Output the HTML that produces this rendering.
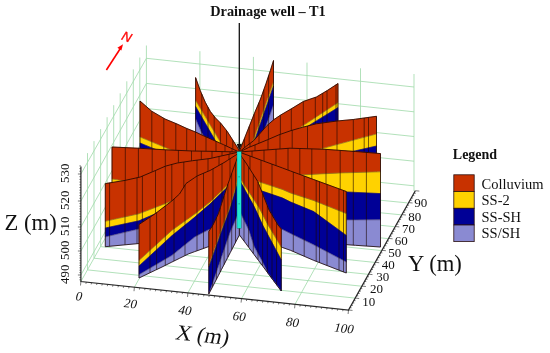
<!DOCTYPE html>
<html><head><meta charset="utf-8"><title>Drainage well T1</title>
<style>html,body{margin:0;padding:0;background:#fff}svg{display:block}</style></head>
<body>
<svg width="550" height="353" viewBox="0 0 550 353">
<rect width="550" height="353" fill="#fff"/>
<path d="M146.4 58.3L414 87M146.4 58.3L80.9 174M146.4 83.4L414 111.8M146.4 83.4L80.9 201M146.4 108.5L414 136.5M146.4 108.5L80.9 227M146.4 133.6L414 161.2M146.4 133.6L80.9 251M146.4 158.7L414 185.8M146.4 158.7L80.9 275M146.4 165L80.9 281.5M146.4 45.5L146.4 165M199.9 51.2L199.9 170.2M253.4 56.9L253.4 175.4M307 62.6L307 180.6M360.5 68.3L360.5 185.8M414 74L414 191M139.8 57.5L139.8 176.7M133.3 69.4L133.3 188.3M126.8 81.3L126.8 199.9M120.2 93.3L120.2 211.6M113.7 105.2L113.7 223.2M107.1 117.2L107.1 234.9M100.6 129.1L100.6 246.6M94 141.1L94 258.2M87.5 153.1L87.5 269.9M87.5 269.9L355.1 298.1M94 258.2L361.6 286.2M100.6 246.6L368.1 274.3M107.1 234.9L374.7 262.4M113.7 223.2L381.2 250.5M120.2 211.6L387.8 238.6M126.8 199.9L394.4 226.7M133.3 188.3L400.9 214.8M139.9 176.6L407.4 202.9M134.4 287.2L199.9 170.2M187.9 292.9L253.4 175.4M241.5 298.6L307 180.6M295 304.3L360.5 185.8" stroke="#a4dcae" stroke-width="0.85" fill="none"/>
<g><polygon points="239.5,151 247,132 253.4,116 255,112 260.5,99 266,83.6 267.5,79.1 270.4,70.5 273.5,60.5 273.5,82 270.4,90.9 267.5,99.3 266,103.6 260.5,119.5 255,135.4 253.4,140 247,158.4 239.5,180" fill="#c83200" stroke="#c83200" stroke-width="0.5"/>
<polygon points="239.5,180 247,158.4 253.4,140 255,135.4 260.5,119.5 266,103.6 267.5,99.3 270.4,90.9 273.5,82 273.5,86 270.4,94.9 267.5,103.3 266,107.6 260.5,123.5 255,139.3 253.4,143.9 247,162.4 239.5,184" fill="#ffd200" stroke="#ffd200" stroke-width="0.5"/>
<polygon points="239.5,184 247,162.4 253.4,143.9 255,139.3 260.5,123.5 266,107.6 267.5,103.3 270.4,94.9 273.5,86 273.5,105 270.4,113.8 267.5,122 266,125.8 260.5,139.8 255,153.7 253.4,157.8 247,174 239.5,193" fill="#000096" stroke="#000096" stroke-width="0.5"/>
<polygon points="239.5,193 247,174 253.4,157.8 255,153.7 260.5,139.8 266,125.8 267.5,122 270.4,113.8 273.5,105 273.5,135 270.4,144 267.5,152.5 266,156.8 260.5,172.9 255,188.9 253.4,193.5 247,212.2 239.5,234" fill="#8a8ad2" stroke="#8a8ad2" stroke-width="0.5"/>
<polyline points="239.5,180 247,158.4 253.4,140 255,135.4 260.5,119.5 266,103.6 267.5,99.3 270.4,90.9 273.5,82" fill="none" stroke="#201030" stroke-width="0.5" stroke-opacity="0.7"/>
<polyline points="239.5,184 247,162.4 253.4,143.9 255,139.3 260.5,123.5 266,107.6 267.5,103.3 270.4,94.9 273.5,86" fill="none" stroke="#201030" stroke-width="0.5" stroke-opacity="0.7"/>
<polyline points="239.5,193 247,174 253.4,157.8 255,153.7 260.5,139.8 266,125.8 267.5,122 270.4,113.8 273.5,105" fill="none" stroke="#201030" stroke-width="0.5" stroke-opacity="0.7"/>
<path d="M244.4 138.7V219.9M249.2 126.5V205.7M254.1 114.3V191.6M258.9 102.7V177.4M263.8 89.8V163.3M268.6 75.7V149.1" stroke="#1a0500" stroke-width="0.7" fill="none" stroke-opacity="0.85"/>
<polygon points="239.5,151 247,132 253.4,116 255,112 260.5,99 266,83.6 267.5,79.1 270.4,70.5 273.5,60.5 273.5,135 270.4,144 267.5,152.5 266,156.8 260.5,172.9 255,188.9 253.4,193.5 247,212.2 239.5,234" fill="none" stroke="#1a0500" stroke-width="0.8"/></g>
<g><polygon points="195.6,77.6 200.2,90.4 201,92.3 205.3,102.3 210.4,111.6 215.5,118 219.3,121.8 221,123.5 227.3,131.5 233,140.5 239,150 239,174 233,163.8 227.3,154 221,143.3 219.3,140.4 215.5,134 210.4,125.4 205.3,116.8 201,109.5 200.2,108.2 195.6,100.4" fill="#c83200" stroke="#c83200" stroke-width="0.5"/>
<polygon points="195.6,100.4 200.2,108.2 201,109.5 205.3,116.8 210.4,125.4 215.5,134 219.3,140.4 221,143.3 227.3,154 233,163.8 239,174 239,181 233,170.8 227.3,161.1 221,150.4 219.3,147.5 215.5,140.9 210.4,132.1 205.3,123.3 201,115.8 200.2,114.5 195.6,106.5" fill="#ffd200" stroke="#ffd200" stroke-width="0.5"/>
<polygon points="195.6,106.5 200.2,114.5 201,115.8 205.3,123.3 210.4,132.1 215.5,140.9 219.3,147.5 221,150.4 227.3,161.1 233,170.8 239,181 239,200 233,189.2 227.3,178.9 221,167.6 219.3,164.5 215.5,157.6 210.4,148.4 205.3,139.3 201,131.5 200.2,129.6 195.6,119" fill="#000096" stroke="#000096" stroke-width="0.5"/>
<polygon points="195.6,119 200.2,129.6 201,131.5 205.3,139.3 210.4,148.4 215.5,157.6 219.3,164.5 221,167.6 227.3,178.9 233,189.2 239,200 239,234 233,221 227.3,208.7 221,195 219.3,191.3 215.5,183.1 210.4,172.1 205.3,161 201,151.7 200.2,150 195.6,140" fill="#8a8ad2" stroke="#8a8ad2" stroke-width="0.5"/>
<polyline points="195.6,100.4 200.2,108.2 201,109.5 205.3,116.8 210.4,125.4 215.5,134 219.3,140.4 221,143.3 227.3,154 233,163.8 239,174" fill="none" stroke="#201030" stroke-width="0.5" stroke-opacity="0.7"/>
<polyline points="195.6,106.5 200.2,114.5 201,115.8 205.3,123.3 210.4,132.1 215.5,140.9 219.3,147.5 221,150.4 227.3,161.1 233,170.8 239,181" fill="none" stroke="#201030" stroke-width="0.5" stroke-opacity="0.7"/>
<polyline points="195.6,119 200.2,129.6 201,131.5 205.3,139.3 210.4,148.4 215.5,157.6 219.3,164.5 221,167.6 227.3,178.9 233,189.2 239,200" fill="none" stroke="#201030" stroke-width="0.5" stroke-opacity="0.7"/>
<path d="M232.8 140.2V220.6M226.6 130.6V207.1M220.4 122.9V193.7M214.2 116.4V180.3M208 107.2V166.9M201.8 94.1V153.4" stroke="#1a0500" stroke-width="0.7" fill="none" stroke-opacity="0.85"/>
<polygon points="195.6,77.6 200.2,90.4 201,92.3 205.3,102.3 210.4,111.6 215.5,118 219.3,121.8 221,123.5 227.3,131.5 233,140.5 239,150 239,234 233,221 227.3,208.7 221,195 219.3,191.3 215.5,183.1 210.4,172.1 205.3,161 201,151.7 200.2,150 195.6,140" fill="none" stroke="#1a0500" stroke-width="0.8"/></g>
<g><polygon points="239,152 241.7,150 246.8,145.8 253.6,140.7 260.4,133 267,125.5 274,119.5 280.7,115 291,109 303.3,101.5 309,99.5 316.4,97 327.3,90.5 338,83.5 338,102.7 327.3,109.7 316.4,116.9 309,121.8 303.3,125.5 291,133.6 280.7,140.4 274,144.9 267,149.5 260.4,153.9 253.6,158.3 246.8,162.8 241.7,166.2 239,168" fill="#c83200" stroke="#c83200" stroke-width="0.5"/>
<polygon points="239,168 241.7,166.2 246.8,162.8 253.6,158.3 260.4,153.9 267,149.5 274,144.9 280.7,140.4 291,133.6 303.3,125.5 309,121.8 316.4,116.9 327.3,109.7 338,102.7 338,107.6 327.3,114.2 316.4,120.9 309,125.5 303.3,129.3 291,137.5 280.7,144.3 274,148.8 267,153.4 260.4,157.8 253.6,162.3 246.8,166.8 241.7,170.2 239,172" fill="#ffd200" stroke="#ffd200" stroke-width="0.5"/>
<polygon points="239,172 241.7,170.2 246.8,166.8 253.6,162.3 260.4,157.8 267,153.4 274,148.8 280.7,144.3 291,137.5 303.3,129.3 309,125.5 316.4,120.9 327.3,114.2 338,107.6 338,128 327.3,135.8 316.4,143.7 309,149.1 303.3,153.2 291,162.2 280.7,169.7 274,174.5 267,179.6 260.4,184.4 253.6,189.4 246.8,194.3 241.7,198 239,200" fill="#000096" stroke="#000096" stroke-width="0.5"/>
<polygon points="239,200 241.7,198 246.8,194.3 253.6,189.4 260.4,184.4 267,179.6 274,174.5 280.7,169.7 291,162.2 303.3,153.2 309,149.1 316.4,143.7 327.3,135.8 338,128 338,140 327.3,150.2 316.4,160.5 309,167.5 303.3,172.9 291,184.6 280.7,194.4 274,200.8 267,207.4 260.4,213.7 253.6,220.1 246.8,226.6 241.7,231.4 239,234" fill="#8a8ad2" stroke="#8a8ad2" stroke-width="0.5"/>
<polyline points="239,168 241.7,166.2 246.8,162.8 253.6,158.3 260.4,153.9 267,149.5 274,144.9 280.7,140.4 291,133.6 303.3,125.5 309,121.8 316.4,116.9 327.3,109.7 338,102.7" fill="none" stroke="#201030" stroke-width="0.5" stroke-opacity="0.7"/>
<polyline points="239,172 241.7,170.2 246.8,166.8 253.6,162.3 260.4,157.8 267,153.4 274,148.8 280.7,144.3 291,137.5 303.3,129.3 309,125.5 316.4,120.9 327.3,114.2 338,107.6" fill="none" stroke="#201030" stroke-width="0.5" stroke-opacity="0.7"/>
<polyline points="239,200 241.7,198 246.8,194.3 253.6,189.4 260.4,184.4 267,179.6 274,174.5 280.7,169.7 291,162.2 303.3,153.2 309,149.1 316.4,143.7 327.3,135.8 338,128" fill="none" stroke="#201030" stroke-width="0.5" stroke-opacity="0.7"/>
<path d="M250 143.4V223.6M259 134.6V215M268.4 124.3V206.1M280.4 115.2V194.7M291.3 108.8V184.3M303.3 101.5V172.9M315.3 97.4V161.6M322.7 93.2V154.5M327 90.7V150.4M336 84.8V141.9" stroke="#1a0500" stroke-width="0.7" fill="none" stroke-opacity="0.85"/>
<polygon points="239,152 241.7,150 246.8,145.8 253.6,140.7 260.4,133 267,125.5 274,119.5 280.7,115 291,109 303.3,101.5 309,99.5 316.4,97 327.3,90.5 338,83.5 338,140 327.3,150.2 316.4,160.5 309,167.5 303.3,172.9 291,184.6 280.7,194.4 274,200.8 267,207.4 260.4,213.7 253.6,220.1 246.8,226.6 241.7,231.4 239,234" fill="none" stroke="#1a0500" stroke-width="0.8"/></g>
<g><polygon points="140,101 151.8,111.3 152,111.4 164,118.4 165,119 177,124 186.8,128.5 195.5,132 201.8,135 223.6,144.7 239,152 239,178 223.6,171.6 201.8,162.6 195.5,160 186.8,156.4 177,152.4 165,147.4 164,147 152,142 151.8,141.9 140,137" fill="#c83200" stroke="#c83200" stroke-width="0.5"/>
<polygon points="140,137 151.8,141.9 152,142 164,147 165,147.4 177,152.4 186.8,156.4 195.5,160 201.8,162.6 223.6,171.6 239,178 239,182 223.6,176 201.8,167.5 195.5,165 186.8,161.6 177,157.8 165,153.1 164,152.7 152,148 151.8,147.9 140,143" fill="#ffd200" stroke="#ffd200" stroke-width="0.5"/>
<polygon points="140,143 151.8,147.9 152,148 164,152.7 165,153.1 177,157.8 186.8,161.6 195.5,165 201.8,167.5 223.6,176 239,182 239,200 223.6,193 201.8,183.1 195.5,180.2 186.8,176.3 177,171.8 165,166.4 164,165.9 152,160.5 151.8,160.4 140,155" fill="#000096" stroke="#000096" stroke-width="0.5"/>
<polygon points="140,155 151.8,160.4 152,160.5 164,165.9 165,166.4 177,171.8 186.8,176.3 195.5,180.2 201.8,183.1 223.6,193 239,200 239,234 223.6,223.3 201.8,208.1 195.5,203.7 186.8,197.6 177,190.8 165,182.4 164,181.7 152,173.4 151.8,173.2 140,165" fill="#8a8ad2" stroke="#8a8ad2" stroke-width="0.5"/>
<polyline points="140,137 151.8,141.9 152,142 164,147 165,147.4 177,152.4 186.8,156.4 195.5,160 201.8,162.6 223.6,171.6 239,178" fill="none" stroke="#201030" stroke-width="0.5" stroke-opacity="0.7"/>
<polyline points="140,143 151.8,147.9 152,148 164,152.7 165,153.1 177,157.8 186.8,161.6 195.5,165 201.8,167.5 223.6,176 239,182" fill="none" stroke="#201030" stroke-width="0.5" stroke-opacity="0.7"/>
<polyline points="140,155 151.8,160.4 152,160.5 164,165.9 165,166.4 177,171.8 186.8,176.3 195.5,180.2 201.8,183.1 223.6,193 239,200" fill="none" stroke="#201030" stroke-width="0.5" stroke-opacity="0.7"/>
<path d="M151.8 111.3V173.2M163.8 118.3V181.6M175.8 123.5V190M186.7 128.5V197.5M195.5 132V203.7M206 136.9V211M216 141.3V218M225 145.4V224.2M232 148.7V229.1" stroke="#1a0500" stroke-width="0.7" fill="none" stroke-opacity="0.85"/>
<polygon points="140,101 151.8,111.3 152,111.4 164,118.4 165,119 177,124 186.8,128.5 195.5,132 201.8,135 223.6,144.7 239,152 239,234 223.6,223.3 201.8,208.1 195.5,203.7 186.8,197.6 177,190.8 165,182.4 164,181.7 152,173.4 151.8,173.2 140,165" fill="none" stroke="#1a0500" stroke-width="0.8"/></g>
<g><polygon points="239,152 241.7,151 248.5,147.5 257,144.1 267.2,139.9 279,134.8 291,130.6 302.8,127.2 316.4,123.8 326,122.5 337,121 353.3,119.5 355.5,119.2 376.5,116.3 376.5,134 355.5,139.6 353.3,140.2 337,144.6 326,147.5 316.4,150.1 302.8,153.8 291,157 279,160.2 267.2,163.4 257,166.1 248.5,168.4 241.7,170.3 239,171" fill="#c83200" stroke="#c83200" stroke-width="0.5"/>
<polygon points="239,171 241.7,170.3 248.5,168.4 257,166.1 267.2,163.4 279,160.2 291,157 302.8,153.8 316.4,150.1 326,147.5 337,144.6 353.3,140.2 355.5,139.6 376.5,134 376.5,146 355.5,150.8 353.3,151.3 337,155 326,157.4 316.4,159.6 302.8,162.7 291,165.3 279,168 267.2,170.7 257,173 248.5,174.9 241.7,176.4 239,177" fill="#ffd200" stroke="#ffd200" stroke-width="0.5"/>
<polygon points="239,177 241.7,176.4 248.5,174.9 257,173 267.2,170.7 279,168 291,165.3 302.8,162.7 316.4,159.6 326,157.4 337,155 353.3,151.3 355.5,150.8 376.5,146 376.5,170 355.5,176.1 353.3,176.7 337,181.5 326,184.7 316.4,187.5 302.8,191.4 291,194.9 279,198.4 267.2,201.8 257,204.8 248.5,207.2 241.7,209.2 239,210" fill="#000096" stroke="#000096" stroke-width="0.5"/>
<polygon points="239,210 241.7,209.2 248.5,207.2 257,204.8 267.2,201.8 279,198.4 291,194.9 302.8,191.4 316.4,187.5 326,184.7 337,181.5 353.3,176.7 355.5,176.1 376.5,170 376.5,190 355.5,196.7 353.3,197.4 337,202.6 326,206.2 316.4,209.2 302.8,213.6 291,217.4 279,221.2 267.2,225 257,228.2 248.5,231 241.7,233.1 239,234" fill="#8a8ad2" stroke="#8a8ad2" stroke-width="0.5"/>
<polyline points="239,171 241.7,170.3 248.5,168.4 257,166.1 267.2,163.4 279,160.2 291,157 302.8,153.8 316.4,150.1 326,147.5 337,144.6 353.3,140.2 355.5,139.6 376.5,134" fill="none" stroke="#201030" stroke-width="0.5" stroke-opacity="0.7"/>
<polyline points="239,177 241.7,176.4 248.5,174.9 257,173 267.2,170.7 279,168 291,165.3 302.8,162.7 316.4,159.6 326,157.4 337,155 353.3,151.3 355.5,150.8 376.5,146" fill="none" stroke="#201030" stroke-width="0.5" stroke-opacity="0.7"/>
<polyline points="239,210 241.7,209.2 248.5,207.2 257,204.8 267.2,201.8 279,198.4 291,194.9 302.8,191.4 316.4,187.5 326,184.7 337,181.5 353.3,176.7 355.5,176.1 376.5,170" fill="none" stroke="#201030" stroke-width="0.5" stroke-opacity="0.7"/>
<path d="M255 144.9V228.9M268 139.6V224.7M280 134.5V220.9M292.2 130.3V217M307.5 126V212.1M322.7 122.9V207.2M337 121V202.6M353.3 119.5V197.4M364.2 118V193.9M368.5 117.4V192.6" stroke="#1a0500" stroke-width="0.7" fill="none" stroke-opacity="0.85"/>
<polygon points="239,152 241.7,151 248.5,147.5 257,144.1 267.2,139.9 279,134.8 291,130.6 302.8,127.2 316.4,123.8 326,122.5 337,121 353.3,119.5 355.5,119.2 376.5,116.3 376.5,190 355.5,196.7 353.3,197.4 337,202.6 326,206.2 316.4,209.2 302.8,213.6 291,217.4 279,221.2 267.2,225 257,228.2 248.5,231 241.7,233.1 239,234" fill="none" stroke="#1a0500" stroke-width="0.8"/></g>
<g><polygon points="112,147 125,147.6 140,148.3 165.3,149.8 192.5,151 210,151.3 239,152 239,178 210,178.8 192.5,179.2 165.3,179.9 140,180.6 125,181 112,179" fill="#c83200" stroke="#c83200" stroke-width="0.5"/>
<polygon points="112,179 125,181 140,180.6 165.3,179.9 192.5,179.2 210,178.8 239,178 239,183 210,183.5 192.5,183.7 165.3,184.2 140,184.6 125,184.8 112,185" fill="#ffd200" stroke="#ffd200" stroke-width="0.5"/>
<polygon points="112,185 125,184.8 140,184.6 165.3,184.2 192.5,183.7 210,183.5 239,183 239,215 210,211.6 192.5,209.5 165.3,206.3 140,203.3 125,201.5 112,200" fill="#000096" stroke="#000096" stroke-width="0.5"/>
<polygon points="112,200 125,201.5 140,203.3 165.3,206.3 192.5,209.5 210,211.6 239,215 239,234 210,229.7 192.5,227 165.3,223 140,219.2 125,216.9 112,215" fill="#8a8ad2" stroke="#8a8ad2" stroke-width="0.5"/>
<polyline points="112,179 125,181 140,180.6 165.3,179.9 192.5,179.2 210,178.8 239,178" fill="none" stroke="#201030" stroke-width="0.5" stroke-opacity="0.7"/>
<polyline points="112,185 125,184.8 140,184.6 165.3,184.2 192.5,183.7 210,183.5 239,183" fill="none" stroke="#201030" stroke-width="0.5" stroke-opacity="0.7"/>
<polyline points="112,200 125,201.5 140,203.3 165.3,206.3 192.5,209.5 210,211.6 239,215" fill="none" stroke="#201030" stroke-width="0.5" stroke-opacity="0.7"/>
<path d="M125.3 147.6V217M138.4 148.2V218.9M152.2 149V221M165.3 149.8V223M178.4 150.4V224.9M191.5 151V226.9M201.3 151.2V228.4M212 151.3V230M222 151.6V231.5M230 151.8V232.7" stroke="#1a0500" stroke-width="0.7" fill="none" stroke-opacity="0.85"/>
<polygon points="112,147 125,147.6 140,148.3 165.3,149.8 192.5,151 210,151.3 239,152 239,234 210,229.7 192.5,227 165.3,223 140,219.2 125,216.9 112,215" fill="none" stroke="#1a0500" stroke-width="0.8"/></g>
<g><polygon points="239,152 290,148.2 299.8,148.5 300,148.5 325,149.3 340,150.4 346,150.8 347,150.9 355.5,151.5 380.5,153.6 380.5,171.8 355.5,172.5 347,172.8 346,172.8 340,173 325,173.7 300,175 299.8,175 290,175.5 239,178" fill="#c83200" stroke="#c83200" stroke-width="0.5"/>
<polygon points="239,178 290,175.5 299.8,175 300,175 325,173.7 340,173 346,172.8 347,172.8 355.5,172.5 380.5,171.8 380.5,193.6 355.5,192.4 347,192 346,192 340,191.6 325,190.6 300,189 299.8,189 290,188.3 239,185" fill="#ffd200" stroke="#ffd200" stroke-width="0.5"/>
<polygon points="239,185 290,188.3 299.8,189 300,189 325,190.6 340,191.6 346,192 347,192 355.5,192.4 380.5,193.6 380.5,219.8 355.5,219.9 347,219.9 346,219.9 340,219.9 325,219.9 300,220 299.8,220 290,220.3 239,222" fill="#000096" stroke="#000096" stroke-width="0.5"/>
<polygon points="239,222 290,220.3 299.8,220 300,220 325,219.9 340,219.9 346,219.9 347,219.9 355.5,219.9 380.5,219.8 380.5,247 355.5,245.3 347,244.7 346,244.6 340,244.1 325,242.7 300,240.3 299.8,240.3 290,239.4 239,234.7" fill="#8a8ad2" stroke="#8a8ad2" stroke-width="0.5"/>
<polyline points="239,178 290,175.5 299.8,175 300,175 325,173.7 340,173 346,172.8 347,172.8 355.5,172.5 380.5,171.8" fill="none" stroke="#201030" stroke-width="0.5" stroke-opacity="0.7"/>
<polyline points="239,185 290,188.3 299.8,189 300,189 325,190.6 340,191.6 346,192 347,192 355.5,192.4 380.5,193.6" fill="none" stroke="#201030" stroke-width="0.5" stroke-opacity="0.7"/>
<polyline points="239,222 290,220.3 299.8,220 300,220 325,219.9 340,219.9 346,219.9 347,219.9 355.5,219.9 380.5,219.8" fill="none" stroke="#201030" stroke-width="0.5" stroke-opacity="0.7"/>
<path d="M252 151V235.9M264 150.1V237M276 149.2V238.1M288 148.3V239.2M299.8 148.5V240.3M311.8 148.9V241.4M326 149.4V242.8M340.2 150.4V244.1M353.3 151.3V245.1M366.4 152.4V246" stroke="#1a0500" stroke-width="0.7" fill="none" stroke-opacity="0.85"/>
<polygon points="239,152 290,148.2 299.8,148.5 300,148.5 325,149.3 340,150.4 346,150.8 347,150.9 355.5,151.5 380.5,153.6 380.5,247 355.5,245.3 347,244.7 346,244.6 340,244.1 325,242.7 300,240.3 299.8,240.3 290,239.4 239,234.7" fill="none" stroke="#1a0500" stroke-width="0.8"/></g>
<g><polygon points="105.3,183.6 125,180.4 139,177.3 140.2,177 155.5,170.5 165.3,166.2 172,164.4 177.3,163 192.6,160.7 210,158.5 239,152 239,180 210,189.1 192.6,194.5 177.3,199.3 172,201 165.3,203.6 155.5,207.4 140.2,213.3 139,213.8 125,216.9 105.3,221.3" fill="#c83200" stroke="#c83200" stroke-width="0.5"/>
<polygon points="105.3,221.3 125,216.9 139,213.8 140.2,213.3 155.5,207.4 165.3,203.6 172,201 177.3,199.3 192.6,194.5 210,189.1 239,180 239,184 210,193.7 192.6,199.6 177.3,204.7 172,206.5 165.3,209.4 155.5,213.7 140.2,220.3 139,220.8 125,223.8 105.3,228" fill="#ffd200" stroke="#ffd200" stroke-width="0.5"/>
<polygon points="105.3,228 125,223.8 139,220.8 140.2,220.3 155.5,213.7 165.3,209.4 172,206.5 177.3,204.7 192.6,199.6 210,193.7 239,184 239,223 210,220.8 192.6,219.5 177.3,218.4 172,218 165.3,220.2 155.5,223.5 140.2,228.6 139,229 125,232.3 105.3,237" fill="#000096" stroke="#000096" stroke-width="0.5"/>
<polygon points="105.3,237 125,232.3 139,229 140.2,228.6 155.5,223.5 165.3,220.2 172,218 177.3,218.4 192.6,219.5 210,220.8 239,223 239,234.7 210,237.3 192.6,238.8 177.3,240.1 172,240.6 165.3,241.2 155.5,242 140.2,243.4 139,243.5 125,244.8 105.3,246.7" fill="#8a8ad2" stroke="#8a8ad2" stroke-width="0.5"/>
<polyline points="105.3,221.3 125,216.9 139,213.8 140.2,213.3 155.5,207.4 165.3,203.6 172,201 177.3,199.3 192.6,194.5 210,189.1 239,180" fill="none" stroke="#201030" stroke-width="0.5" stroke-opacity="0.7"/>
<polyline points="105.3,228 125,223.8 139,220.8 140.2,220.3 155.5,213.7 165.3,209.4 172,206.5 177.3,204.7 192.6,199.6 210,193.7 239,184" fill="none" stroke="#201030" stroke-width="0.5" stroke-opacity="0.7"/>
<polyline points="105.3,237 125,232.3 139,229 140.2,228.6 155.5,223.5 165.3,220.2 172,218 177.3,218.4 192.6,219.5 210,220.8 239,223" fill="none" stroke="#201030" stroke-width="0.5" stroke-opacity="0.7"/>
<path d="M109.6 182.9V246.3M125 180.4V244.8M137 177.7V243.7M142.4 176.1V243.2M155.5 170.5V242M165.3 166.2V241.2M171.8 164.5V240.6M183.8 162V239.6M197 160.1V238.4M208 158.8V237.4M219 156.5V236.5M229 154.2V235.6" stroke="#1a0500" stroke-width="0.7" fill="none" stroke-opacity="0.85"/>
<polygon points="105.3,183.6 125,180.4 139,177.3 140.2,177 155.5,170.5 165.3,166.2 172,164.4 177.3,163 192.6,160.7 210,158.5 239,152 239,234.7 210,237.3 192.6,238.8 177.3,240.1 172,240.6 165.3,241.2 155.5,242 140.2,243.4 139,243.5 125,244.8 105.3,246.7" fill="none" stroke="#1a0500" stroke-width="0.8"/></g>
<g><polygon points="239,152 239.3,152.1 258,159 263.4,161 282.5,168 290.5,171 313.6,179.5 346.3,191.5 346.3,213.6 313.6,200.5 290.5,193 282.5,189.5 263.4,183.3 258,181.6 239.3,175.1 239,175" fill="#c83200" stroke="#c83200" stroke-width="0.5"/>
<polygon points="239,175 239.3,175.1 258,181.6 263.4,183.3 282.5,189.5 290.5,193 313.6,200.5 346.3,213.6 346.3,235.4 313.6,211.5 290.5,202 282.5,198 263.4,191.5 258,189.6 239.3,183.1 239,183" fill="#ffd200" stroke="#ffd200" stroke-width="0.5"/>
<polygon points="239,183 239.3,183.1 258,189.6 263.4,191.5 282.5,198 290.5,202 313.6,211.5 346.3,235.4 346.3,262 313.6,244.8 290.5,233.5 282.5,229.5 263.4,226.2 258,225.3 239.3,222.1 239,222" fill="#000096" stroke="#000096" stroke-width="0.5"/>
<polygon points="239,222 239.3,222.1 258,225.3 263.4,226.2 282.5,229.5 290.5,233.5 313.6,244.8 346.3,262 346.3,273 313.6,260.3 290.5,250.3 282.5,247.5 263.4,241.8 258,240.2 239.3,234.7 239,234.6" fill="#8a8ad2" stroke="#8a8ad2" stroke-width="0.5"/>
<polyline points="239,175 239.3,175.1 258,181.6 263.4,183.3 282.5,189.5 290.5,193 313.6,200.5 346.3,213.6" fill="none" stroke="#201030" stroke-width="0.5" stroke-opacity="0.7"/>
<polyline points="239,183 239.3,183.1 258,189.6 263.4,191.5 282.5,198 290.5,202 313.6,211.5 346.3,235.4" fill="none" stroke="#201030" stroke-width="0.5" stroke-opacity="0.7"/>
<polyline points="239,222 239.3,222.1 258,225.3 263.4,226.2 282.5,229.5 290.5,233.5 313.6,244.8 346.3,262" fill="none" stroke="#201030" stroke-width="0.5" stroke-opacity="0.7"/>
<path d="M250 156V237.9M261 160.1V241.1M272 164.1V244.4M293.3 172V251.5M304.2 176V256.2M316.2 180.4V261.3M319.5 181.6V262.6M327 184.4V265.5M339 188.8V270.2M343.5 190.5V271.9" stroke="#1a0500" stroke-width="0.7" fill="none" stroke-opacity="0.85"/>
<polygon points="239,152 239.3,152.1 258,159 263.4,161 282.5,168 290.5,171 313.6,179.5 346.3,191.5 346.3,273 313.6,260.3 290.5,250.3 282.5,247.5 263.4,241.8 258,240.2 239.3,234.7 239,234.6" fill="none" stroke="#1a0500" stroke-width="0.8"/></g>
<g><polygon points="139,224.5 155.5,213.5 162,208.5 171.8,201 179.5,194 186,183.5 188.2,182 194.7,177.6 197,176 208,171.3 209,170.9 210,170.5 225,162 227.6,160.3 239,153 239,176 227.6,185 225,187.5 210,202 209,202.8 208,203.6 197,212.2 194.7,214 188.2,218.7 186,220.2 179.5,224.9 171.8,230.4 162,239.4 155.5,245.4 139,260.5" fill="#c83200" stroke="#c83200" stroke-width="0.5"/>
<polygon points="139,260.5 155.5,245.4 162,239.4 171.8,230.4 179.5,224.9 186,220.2 188.2,218.7 194.7,214 197,212.2 208,203.6 209,202.8 210,202 225,187.5 227.6,185 239,176 239,178 227.6,187 225,189.5 210,204 209,204.9 208,205.7 197,215.3 194.7,217.3 188.2,222.6 186,224.3 179.5,229.6 171.8,235.8 162,244.8 155.5,250.8 139,266" fill="#ffd200" stroke="#ffd200" stroke-width="0.5"/>
<polygon points="139,266 155.5,250.8 162,244.8 171.8,235.8 179.5,229.6 186,224.3 188.2,222.6 194.7,217.3 197,215.3 208,205.7 209,204.9 210,204 225,189.5 227.6,187 239,178 239,223 227.6,225.6 225,226.2 210,229.5 209,229.8 208,230 197,235.8 194.7,237 188.2,242.3 186,244 179.5,249.3 171.8,255.5 162,261.2 155.5,265 139,274.7" fill="#000096" stroke="#000096" stroke-width="0.5"/>
<polygon points="139,274.7 155.5,265 162,261.2 171.8,255.5 179.5,249.3 186,244 188.2,242.3 194.7,237 197,235.8 208,230 209,229.8 210,229.5 225,226.2 227.6,225.6 239,223 239,234.8 227.6,239.2 225,240.2 210,246 209,246.4 208,246.8 197,250.8 194.7,251.6 188.2,254 186,255.1 179.5,258.3 171.8,262.1 162,267 155.5,270.1 139,278" fill="#8a8ad2" stroke="#8a8ad2" stroke-width="0.5"/>
<polyline points="139,260.5 155.5,245.4 162,239.4 171.8,230.4 179.5,224.9 186,220.2 188.2,218.7 194.7,214 197,212.2 208,203.6 209,202.8 210,202 225,187.5 227.6,185 239,176" fill="none" stroke="#201030" stroke-width="0.5" stroke-opacity="0.7"/>
<polyline points="139,266 155.5,250.8 162,244.8 171.8,235.8 179.5,229.6 186,224.3 188.2,222.6 194.7,217.3 197,215.3 208,205.7 209,204.9 210,204 225,189.5 227.6,187 239,178" fill="none" stroke="#201030" stroke-width="0.5" stroke-opacity="0.7"/>
<polyline points="139,274.7 155.5,265 162,261.2 171.8,255.5 179.5,249.3 186,244 188.2,242.3 194.7,237 197,235.8 208,230 209,229.8 210,229.5 225,226.2 227.6,225.6 239,223" fill="none" stroke="#201030" stroke-width="0.5" stroke-opacity="0.7"/>
<path d="M150 217.2V272.7M156.6 212.7V269.6M165.3 206V265.4M174 199V261M185 185.1V255.6M197 176V250.8M203.5 173.2V248.4M213 168.8V244.9M222 163.7V241.4M230 158.8V238.3" stroke="#1a0500" stroke-width="0.7" fill="none" stroke-opacity="0.85"/>
<polygon points="139,224.5 155.5,213.5 162,208.5 171.8,201 179.5,194 186,183.5 188.2,182 194.7,177.6 197,176 208,171.3 209,170.9 210,170.5 225,162 227.6,160.3 239,153 239,234.8 227.6,239.2 225,240.2 210,246 209,246.4 208,246.8 197,250.8 194.7,251.6 188.2,254 186,255.1 179.5,258.3 171.8,262.1 162,267 155.5,270.1 139,278" fill="none" stroke="#1a0500" stroke-width="0.8"/></g>
<g><polygon points="239.3,153.4 240,154.4 242.4,157.9 246,163 248.9,167.5 254,175.5 254.2,175.8 257.7,181.3 258.5,183.3 262.6,193.7 268,207.5 269,210 271,213.3 278,225 281.3,229 281.3,247.3 278,241.8 271,230 269,226.7 268,225 262.6,214.6 258.5,206.7 257.7,205.5 254.2,200.1 254,199.8 248.9,192 246,187.5 242.4,182 240,178 239.3,176.8" fill="#c83200" stroke="#c83200" stroke-width="0.5"/>
<polygon points="239.3,176.8 240,178 242.4,182 246,187.5 248.9,192 254,199.8 254.2,200.1 257.7,205.5 258.5,206.7 262.6,214.6 268,225 269,226.7 271,230 278,241.8 281.3,247.3 281.3,260 278,253.8 271,240.7 269,237 268,235.1 262.6,225 258.5,216.1 257.7,214.3 254.2,206.7 254,206.3 248.9,197.1 246,191.9 242.4,185.3 240,181 239.3,179.7" fill="#ffd200" stroke="#ffd200" stroke-width="0.5"/>
<polygon points="239.3,179.7 240,181 242.4,185.3 246,191.9 248.9,197.1 254,206.3 254.2,206.7 257.7,214.3 258.5,216.1 262.6,225 268,235.1 269,237 271,240.7 278,253.8 281.3,260 281.3,291 278,286.6 271,277.2 269,274.5 268,273.2 262.6,262.2 258.5,254.6 257.7,253.1 254.2,246.7 254,246.3 248.9,230.3 246,224.3 242.4,216.9 240,212 239.3,210.6" fill="#000096" stroke="#000096" stroke-width="0.5"/>
<polygon points="239.3,210.6 240,212 242.4,216.9 246,224.3 248.9,230.3 254,246.3 254.2,246.7 257.7,253.1 258.5,254.6 262.6,262.2 268,273.2 269,274.5 271,277.2 278,286.6 281.3,291 281.3,291 278,286.6 271,277.2 269,274.5 268,273.2 262.6,265.9 258.5,260.5 257.7,259.4 254.2,254.7 254,254.4 248.9,247.6 246,243.7 242.4,238.9 240,235.7 239.3,234.7" fill="#8a8ad2" stroke="#8a8ad2" stroke-width="0.5"/>
<polyline points="239.3,176.8 240,178 242.4,182 246,187.5 248.9,192 254,199.8 254.2,200.1 257.7,205.5 258.5,206.7 262.6,214.6 268,225 269,226.7 271,230 278,241.8 281.3,247.3" fill="none" stroke="#201030" stroke-width="0.5" stroke-opacity="0.7"/>
<polyline points="239.3,179.7 240,181 242.4,185.3 246,191.9 248.9,197.1 254,206.3 254.2,206.7 257.7,214.3 258.5,216.1 262.6,225 268,235.1 269,237 271,240.7 278,253.8 281.3,260" fill="none" stroke="#201030" stroke-width="0.5" stroke-opacity="0.7"/>
<polyline points="239.3,210.6 240,212 242.4,216.9 246,224.3 248.9,230.3 254,246.3 254.2,246.7 257.7,253.1 258.5,254.6 262.6,262.2 268,273.2 269,274.5 271,277.2 278,286.6 281.3,291" fill="none" stroke="#201030" stroke-width="0.5" stroke-opacity="0.7"/>
<path d="M244 160.1V241M248.6 167.1V247.2M253.3 174.4V253.5M258 182V259.7M262.6 193.8V266M267.3 205.7V272.2M272 214.9V278.5M276.6 222.7V284.7" stroke="#1a0500" stroke-width="0.7" fill="none" stroke-opacity="0.85"/>
<polygon points="239.3,153.4 240,154.4 242.4,157.9 246,163 248.9,167.5 254,175.5 254.2,175.8 257.7,181.3 258.5,183.3 262.6,193.7 268,207.5 269,210 271,213.3 278,225 281.3,229 281.3,291 278,286.6 271,277.2 269,274.5 268,273.2 262.6,265.9 258.5,260.5 257.7,259.4 254.2,254.7 254,254.4 248.9,247.6 246,243.7 242.4,238.9 240,235.7 239.3,234.7" fill="none" stroke="#1a0500" stroke-width="0.8"/></g>
<g><polygon points="208.8,231.5 210,229.6 213,225 218.4,213.7 221.6,203.7 227.6,185 229.5,179.7 230.2,177.7 236,161.4 239,153 239.3,152.2 239.3,173.9 239,175 236,186 230.2,205.6 229.5,208 227.6,213.1 221.6,229.3 218.4,238.3 213,253.6 210,262 208.8,265.4" fill="#c83200" stroke="#c83200" stroke-width="0.5"/>
<polygon points="208.8,265.4 210,262 213,253.6 218.4,238.3 221.6,229.3 227.6,213.1 229.5,208 230.2,205.6 236,186 239,175 239.3,173.9 239.3,176.9 239,178 236,189 230.2,208.2 229.5,210.5 227.6,215.6 221.6,231.5 218.4,240.4 213,255.4 210,263.7 208.8,267" fill="#ffd200" stroke="#ffd200" stroke-width="0.5"/>
<polygon points="208.8,267 210,263.7 213,255.4 218.4,240.4 221.6,231.5 227.6,215.6 229.5,210.5 230.2,208.2 236,189 239,178 239.3,176.9 239.3,211.3 239,212 236,218.8 230.2,232 229.5,234 227.6,239.6 221.6,257.1 218.4,266.5 213,282.2 210,291 208.8,292.5" fill="#000096" stroke="#000096" stroke-width="0.5"/>
<polygon points="208.8,292.5 210,291 213,282.2 218.4,266.5 221.6,257.1 227.6,239.6 229.5,234 230.2,232 236,218.8 239,212 239.3,211.3 239.3,235.1 239,235.7 236,241.5 230.2,252.7 229.5,254 227.6,257.7 221.6,269.3 218.4,275.5 213,285.9 210,291.7 208.8,294" fill="#8a8ad2" stroke="#8a8ad2" stroke-width="0.5"/>
<polyline points="208.8,265.4 210,262 213,253.6 218.4,238.3 221.6,229.3 227.6,213.1 229.5,208 230.2,205.6 236,186 239,175 239.3,173.9" fill="none" stroke="#201030" stroke-width="0.5" stroke-opacity="0.7"/>
<polyline points="208.8,267 210,263.7 213,255.4 218.4,240.4 221.6,231.5 227.6,215.6 229.5,210.5 230.2,208.2 236,189 239,178 239.3,176.9" fill="none" stroke="#201030" stroke-width="0.5" stroke-opacity="0.7"/>
<polyline points="208.8,292.5 210,291 213,282.2 218.4,266.5 221.6,257.1 227.6,239.6 229.5,234 230.2,232 236,218.8 239,212 239.3,211.3" fill="none" stroke="#201030" stroke-width="0.5" stroke-opacity="0.7"/>
<path d="M235.5 162.9V242.5M231.7 173.6V249.8M227.9 184.3V257.2M224.1 196.1V264.5M220.2 208V271.9M216.4 217.8V279.3M212.6 225.6V286.6" stroke="#1a0500" stroke-width="0.7" fill="none" stroke-opacity="0.85"/>
<polygon points="208.8,231.5 210,229.6 213,225 218.4,213.7 221.6,203.7 227.6,185 229.5,179.7 230.2,177.7 236,161.4 239,153 239.3,152.2 239.3,235.1 239,235.7 236,241.5 230.2,252.7 229.5,254 227.6,257.7 221.6,269.3 218.4,275.5 213,285.9 210,291.7 208.8,294" fill="none" stroke="#1a0500" stroke-width="0.8"/></g>
<rect x="237" y="151.6" width="4.2" height="76.6" fill="#20e6d2" stroke="#0a6a60" stroke-width="0.4"/><path d="M239.1 176v1.5M239.1 203v1.5" stroke="#0a6a60" stroke-width="0.6"/>
<path d="M80.9 166.5L80.9 281.5L348.5 310L415.3 190.7" stroke="#2a2a2a" stroke-width="1.25" fill="none"/>
<path d="M80.9 279.8h-1.5M80.9 277.4h-1.5M80.9 275h-3M80.9 272.6h-1.5M80.9 270.2h-1.5M80.9 267.8h-1.5M80.9 265.4h-1.5M80.9 263h-1.5M80.9 260.6h-1.5M80.9 258.2h-1.5M80.9 255.8h-1.5M80.9 253.4h-1.5M80.9 251h-3M80.9 248.6h-1.5M80.9 246.2h-1.5M80.9 243.8h-1.5M80.9 241.4h-1.5M80.9 239h-1.5M80.9 236.6h-1.5M80.9 234.2h-1.5M80.9 231.8h-1.5M80.9 229.4h-1.5M80.9 227h-3M80.9 224.4h-1.5M80.9 221.8h-1.5M80.9 219.2h-1.5M80.9 216.6h-1.5M80.9 214h-1.5M80.9 211.4h-1.5M80.9 208.8h-1.5M80.9 206.2h-1.5M80.9 203.6h-1.5M80.9 201h-3M80.9 198.3h-1.5M80.9 195.6h-1.5M80.9 192.9h-1.5M80.9 190.2h-1.5M80.9 187.5h-1.5M80.9 184.8h-1.5M80.9 182.1h-1.5M80.9 179.4h-1.5M80.9 176.7h-1.5M80.9 174h-3M80.9 171.3h-1.5M80.9 168.6h-1.5M80.9 165.9h-1.5M80.9 281.5l-0.4 4M86.3 282.1l-0.4 1.8M91.6 282.6l-0.4 1.8M97 283.2l-0.4 1.8M102.3 283.8l-0.4 1.8M107.7 284.4l-0.4 1.8M113 284.9l-0.4 1.8M118.4 285.5l-0.4 1.8M123.7 286.1l-0.4 1.8M129.1 286.6l-0.4 1.8M134.4 287.2l-0.4 4M139.8 287.8l-0.4 1.8M145.1 288.3l-0.4 1.8M150.5 288.9l-0.4 1.8M155.8 289.5l-0.4 1.8M161.2 290.1l-0.4 1.8M166.5 290.6l-0.4 1.8M171.9 291.2l-0.4 1.8M177.2 291.8l-0.4 1.8M182.6 292.3l-0.4 1.8M187.9 292.9l-0.4 4M193.3 293.5l-0.4 1.8M198.6 294l-0.4 1.8M204 294.6l-0.4 1.8M209.3 295.2l-0.4 1.8M214.7 295.8l-0.4 1.8M220.1 296.3l-0.4 1.8M225.4 296.9l-0.4 1.8M230.8 297.5l-0.4 1.8M236.1 298l-0.4 1.8M241.5 298.6l-0.4 4M246.8 299.2l-0.4 1.8M252.2 299.7l-0.4 1.8M257.5 300.3l-0.4 1.8M262.9 300.9l-0.4 1.8M268.2 301.4l-0.4 1.8M273.6 302l-0.4 1.8M278.9 302.6l-0.4 1.8M284.3 303.2l-0.4 1.8M289.6 303.7l-0.4 1.8M295 304.3l-0.4 4M300.3 304.9l-0.4 1.8M305.7 305.4l-0.4 1.8M311 306l-0.4 1.8M316.4 306.6l-0.4 1.8M321.7 307.1l-0.4 1.8M327.1 307.7l-0.4 1.8M332.4 308.3l-0.4 1.8M337.8 308.9l-0.4 1.8M343.1 309.4l-0.4 1.8M348.5 310l-0.4 4M348.5 310l4 0.4M349.8 307.6l1.8 0.2M351.2 305.2l1.8 0.2M352.5 302.8l1.8 0.2M353.8 300.5l1.8 0.2M355.2 298.1l4 0.4M356.5 295.7l1.8 0.2M357.9 293.3l1.8 0.2M359.2 290.9l1.8 0.2M360.5 288.5l1.8 0.2M361.9 286.1l4 0.4M363.2 283.8l1.8 0.2M364.5 281.4l1.8 0.2M365.9 279l1.8 0.2M367.2 276.6l1.8 0.2M368.5 274.2l4 0.4M369.9 271.8l1.8 0.2M371.2 269.4l1.8 0.2M372.5 267.1l1.8 0.2M373.9 264.7l1.8 0.2M375.2 262.3l4 0.4M376.6 259.9l1.8 0.2M377.9 257.5l1.8 0.2M379.2 255.1l1.8 0.2M380.6 252.7l1.8 0.2M381.9 250.3l4 0.4M383.2 248l1.8 0.2M384.6 245.6l1.8 0.2M385.9 243.2l1.8 0.2M387.2 240.8l1.8 0.2M388.6 238.4l4 0.4M389.9 236l1.8 0.2M391.3 233.6l1.8 0.2M392.6 231.3l1.8 0.2M393.9 228.9l1.8 0.2M395.3 226.5l4 0.4M396.6 224.1l1.8 0.2M397.9 221.7l1.8 0.2M399.3 219.3l1.8 0.2M400.6 216.9l1.8 0.2M401.9 214.6l4 0.4M403.3 212.2l1.8 0.2M404.6 209.8l1.8 0.2M405.9 207.4l1.8 0.2M407.3 205l1.8 0.2M408.6 202.6l4 0.4M410 200.2l1.8 0.2M411.3 197.9l1.8 0.2M412.6 195.5l1.8 0.2M414 193.1l1.8 0.2M415.3 190.7l4 0.4" stroke="#222" stroke-width="0.6" fill="none"/>
<path d="M239.3 23V146" stroke="#111" stroke-width="1.3" fill="none"/><path d="M239.3 150.5l-2.6 -6.5h5.2z" fill="#111"/>
<path d="M106.4 70L120.5 48.2" stroke="#ff0000" stroke-width="1.6" fill="none"/><path d="M123 44.3l-5.6 3.4 4 2.7z" fill="#ff0000"/><text transform="translate(126.8 36.6) rotate(21)" text-anchor="middle" font-family="Liberation Sans, sans-serif" font-style="italic" font-size="13" fill="#ff0000" stroke="#ff0000" stroke-width="0.35" y="4.6">N</text>
<rect x="453.8" y="174.8" width="20.4" height="16.7" fill="#c83200" stroke="#2a1010" stroke-width="0.8"/>
<rect x="453.8" y="191.5" width="20.4" height="16.8" fill="#ffd200" stroke="#2a1010" stroke-width="0.8"/>
<rect x="453.8" y="208.3" width="20.4" height="16.7" fill="#000096" stroke="#2a1010" stroke-width="0.8"/>
<rect x="453.8" y="225" width="20.4" height="16.6" fill="#8a8ad2" stroke="#2a1010" stroke-width="0.8"/>
<text transform="translate(69.3 274.3) rotate(-90)" text-anchor="middle" font-family="Liberation Serif, serif" font-size="12.8" fill="#111">490</text>
<text transform="translate(69.3 250.3) rotate(-90)" text-anchor="middle" font-family="Liberation Serif, serif" font-size="12.8" fill="#111">500</text>
<text transform="translate(69.3 226.3) rotate(-90)" text-anchor="middle" font-family="Liberation Serif, serif" font-size="12.8" fill="#111">510</text>
<text transform="translate(69.3 200.3) rotate(-90)" text-anchor="middle" font-family="Liberation Serif, serif" font-size="12.8" fill="#111">520</text>
<text transform="translate(69.3 173.3) rotate(-90)" text-anchor="middle" font-family="Liberation Serif, serif" font-size="12.8" fill="#111">530</text>
<text transform="translate(78 300.4) rotate(6) skewX(-10)" text-anchor="middle" font-family="Liberation Serif, serif" font-size="13" fill="#111">0</text>
<text transform="translate(129.5 307.8) rotate(6) skewX(-10)" text-anchor="middle" font-family="Liberation Serif, serif" font-size="13" fill="#111">20</text>
<text transform="translate(184 314.5) rotate(6) skewX(-10)" text-anchor="middle" font-family="Liberation Serif, serif" font-size="13" fill="#111">40</text>
<text transform="translate(238.2 320.5) rotate(6) skewX(-10)" text-anchor="middle" font-family="Liberation Serif, serif" font-size="13" fill="#111">60</text>
<text transform="translate(291.5 326.5) rotate(6) skewX(-10)" text-anchor="middle" font-family="Liberation Serif, serif" font-size="13" fill="#111">80</text>
<text transform="translate(343 332.5) rotate(6) skewX(-10)" text-anchor="middle" font-family="Liberation Serif, serif" font-size="13" fill="#111">100</text>
<text x="368.7" y="305.8" text-anchor="middle" font-family="Liberation Serif, serif" font-size="13" fill="#111">10</text>
<text x="376.4" y="293.3" text-anchor="middle" font-family="Liberation Serif, serif" font-size="13" fill="#111">20</text>
<text x="382.7" y="280.6" text-anchor="middle" font-family="Liberation Serif, serif" font-size="13" fill="#111">30</text>
<text x="388.3" y="268.6" text-anchor="middle" font-family="Liberation Serif, serif" font-size="13" fill="#111">40</text>
<text x="394.7" y="256.6" text-anchor="middle" font-family="Liberation Serif, serif" font-size="13" fill="#111">50</text>
<text x="401.2" y="244.9" text-anchor="middle" font-family="Liberation Serif, serif" font-size="13" fill="#111">60</text>
<text x="408.4" y="232.9" text-anchor="middle" font-family="Liberation Serif, serif" font-size="13" fill="#111">70</text>
<text x="414.7" y="220.9" text-anchor="middle" font-family="Liberation Serif, serif" font-size="13" fill="#111">80</text>
<text x="420.7" y="206.8" text-anchor="middle" font-family="Liberation Serif, serif" font-size="13" fill="#111">90</text>
 <text x="4.6" y="230.4" font-family="Liberation Serif, serif" font-size="22.6" fill="#111">Z (m)</text>
 <text x="408" y="270.5" font-family="Liberation Serif, serif" font-size="22.6" fill="#111">Y (m)</text>
<text transform="translate(174.6 339.2) rotate(6) skewX(-8)" font-family="Liberation Serif, serif" font-size="22" fill="#111">X (m)</text>
<text x="210.3" y="15.7" font-family="Liberation Serif, serif" font-size="14.3" font-weight="bold" fill="#111">Drainage well – T1</text>
<text x="452.8" y="158.8" font-family="Liberation Serif, serif" font-size="14" font-weight="bold" fill="#111">Legend</text>
<text x="481.5" y="188.5" font-family="Liberation Serif, serif" font-size="14.5" fill="#111">Colluvium</text>
<text x="481.5" y="205" font-family="Liberation Serif, serif" font-size="14.5" fill="#111">SS-2</text>
<text x="481.5" y="221.7" font-family="Liberation Serif, serif" font-size="14.5" fill="#111">SS-SH</text>
<text x="481.5" y="238" font-family="Liberation Serif, serif" font-size="14.5" fill="#111">SS/SH</text>
</svg>
</body></html>
